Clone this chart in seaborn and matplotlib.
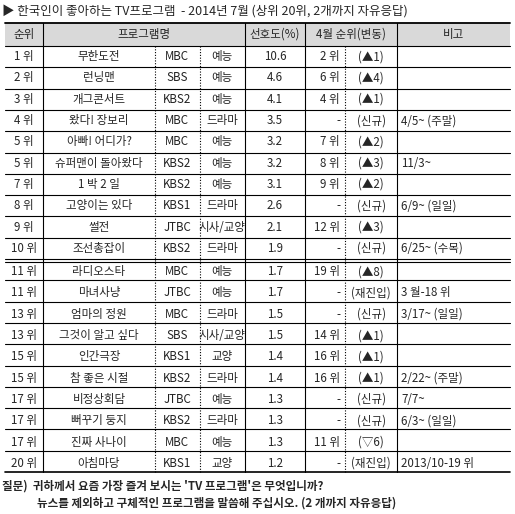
import matplotlib
matplotlib.use("Agg")
import matplotlib.pyplot as plt
import seaborn as sns

ranks = ["1 위", "2 위", "3 위", "4 위", "5 위", "5 위", "7 위", "8 위", "9 위", "10 위",
         "11 위", "11 위", "13 위", "13 위", "15 위", "15 위", "17 위", "17 위", "17 위", "20 위"]
names = ["무한도전", "런닝맨", "개그콘서트", "왔다! 장보리", "아빠! 어디가?", "슈퍼맨이 돌아왔다",
         "1 박 2 일", "고양이는 있다", "썰전", "조선총잡이", "라디오스타", "마녀사냥", "엄마의 정원",
         "그것이 알고 싶다", "인간극장", "참 좋은 시절", "비정상회담", "뻐꾸기 둥지", "진짜 사나이", "아침마당"]
channels = ["MBC", "SBS", "KBS2", "MBC", "MBC", "KBS2", "KBS2", "KBS1", "JTBC", "KBS2",
            "MBC", "JTBC", "MBC", "SBS", "KBS1", "KBS2", "JTBC", "KBS2", "MBC", "KBS1"]
genres = ["예능", "예능", "예능", "드라마", "예능", "예능", "예능", "드라마", "시사/교양", "드라마",
          "예능", "예능", "드라마", "시사/교양", "교양", "드라마", "예능", "드라마", "예능", "교양"]
prefs = [10.6, 4.6, 4.1, 3.5, 3.2, 3.2, 3.1, 2.6, 2.1, 1.9,
         1.7, 1.7, 1.5, 1.5, 1.4, 1.4, 1.3, 1.3, 1.3, 1.2]
april = ["2 위", "6 위", "4 위", "-", "7 위", "8 위", "9 위", "-", "12 위", "-",
         "19 위", "-", "-", "14 위", "16 위", "16 위", "-", "-", "11 위", "-"]
changes = ["(▲1)", "(▲4)", "(▲1)", "(신규)", "(▲2)", "(▲3)", "(▲2)", "(신규)", "(▲3)", "(신규)",
           "(▲8)", "(재진입)", "(신규)", "(▲1)", "(▲1)", "(▲1)", "(신규)", "(신규)", "(▽6)", "(재진입)"]
notes = ["", "", "", "4/5~ (주말)", "", "11/3~", "", "6/9~ (일일)", "", "6/25~ (수목)",
         "", "3 월-18 위", "3/17~ (일일)", "", "", "2/22~ (주말)", "7/7~", "6/3~ (일일)", "", "2013/10-19 위"]

sns.set_style("white")
plt.rcParams["font.family"] = ["Noto Sans CJK KR", "DejaVu Sans"]

W, H = 515, 514
fig = plt.figure(figsize=(W / 100, H / 100), dpi=100)
ax = fig.add_axes([0, 0, 1, 1])
ax.set_xlim(0, W)
ax.set_ylim(H, 0)
ax.axis("off")

fs = 8.3
left, right = 5, 510
top, head_bot, bottom = 23, 46, 472
row_h = (bottom - head_bot) / len(ranks)

ax.text(2, 12, "▶ 한국인이 좋아하는 TV프로그램  - 2014년 7월 (상위 20위, 2개까지 자유응답)",
        fontsize=9, va="center", ha="left")

ax.fill_between([left, right], top, head_bot, color="#d9d9d9", lw=0)
for x, lab in [(24, "순위"), (144, "프로그램명"), (275, "선호도(%)"), (351, "4월 순위(변동)"), (453, "비고")]:
    ax.text(x, (top + head_bot) / 2, lab, fontsize=fs, ha="center", va="center")

ax.plot([left, right], [top, top], color="black", lw=1.3)
ax.plot([left, right], [head_bot, head_bot], color="black", lw=0.8)
for i in range(1, len(ranks) + 1):
    y = head_bot + i * row_h
    ax.plot([left, right], [y, y], color="black", lw=1.2 if i == len(ranks) else 0.8)
    if i == 10:
        ax.plot([left, right], [y + 2.5, y + 2.5], color="black", lw=0.8)

for x in [43, 245, 305, 397]:
    ax.plot([x, x], [top, bottom], color="black", lw=0.8)
for x in [155, 200, 345]:
    ax.plot([x, x], [head_bot, bottom], color="black", lw=0.8, ls=(0, (1, 1.5)))

for i in range(len(ranks)):
    y = head_bot + (i + 0.5) * row_h + (2 if i >= 10 else 0)
    ax.text(24, y, ranks[i], fontsize=fs, ha="center", va="center")
    ax.text(99, y, names[i], fontsize=fs, ha="center", va="center")
    ax.text(177, y, channels[i], fontsize=fs, ha="center", va="center", color="#222222")
    ax.text(222, y, genres[i], fontsize=fs, ha="center", va="center")
    ax.text(275, y, f"{prefs[i]:.1f}", fontsize=fs, ha="center", va="center")
    ax.text(340, y, april[i], fontsize=fs, ha="right", va="center")
    ax.text(371, y, changes[i], fontsize=fs, ha="center", va="center")
    ax.text(401, y, notes[i], fontsize=fs, ha="left", va="center")

ax.text(2, 486, "질문)  귀하께서 요즘 가장 즐겨 보시는 'TV 프로그램'은 무엇입니까?",
        fontsize=8.3, fontweight="bold", ha="left", va="center")
ax.text(37, 503, "뉴스를 제외하고 구체적인 프로그램을 말씀해 주십시오. (2 개까지 자유응답)",
        fontsize=8.3, fontweight="bold", ha="left", va="center")

fig.savefig("out.png", dpi=100)
